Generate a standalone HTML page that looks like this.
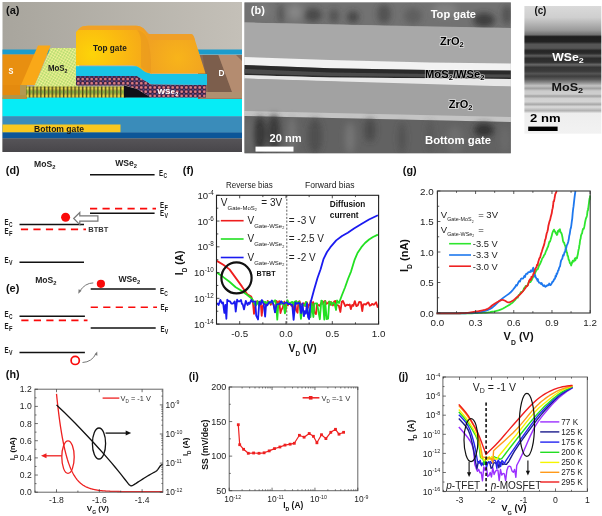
<!DOCTYPE html><html><head><meta charset="utf-8"><style>html,body{margin:0;padding:0;background:#fff;width:602px;height:516px;overflow:hidden;}svg{display:block;will-change:transform;}text{font-family:"Liberation Sans",sans-serif;}</style></head><body><svg width="602" height="516" viewBox="0 0 602 516"><defs><linearGradient id="abg" x1="0" y1="0" x2="1" y2="0"><stop offset="0" stop-color="#a8a59d"/><stop offset="1" stop-color="#c4c0b8"/></linearGradient><linearGradient id="agray" x1="0" y1="0" x2="0" y2="1"><stop offset="0" stop-color="#565458"/><stop offset="1" stop-color="#48464a"/></linearGradient><linearGradient id="tgtop" x1="0" y1="0" x2="0" y2="1"><stop offset="0" stop-color="#f0a030"/><stop offset="1" stop-color="#f5a020"/></linearGradient><linearGradient id="tgfront" x1="0" y1="0" x2="1" y2="0"><stop offset="0" stop-color="#fcc010"/><stop offset="0.5" stop-color="#f9b21a"/><stop offset="1" stop-color="#f5a81e"/></linearGradient><pattern id="mosTop" width="2.6" height="2.6" patternUnits="userSpaceOnUse" patternTransform="rotate(30)"><rect width="2.6" height="2.6" fill="#dfe886"/><circle cx="0.8" cy="0.8" r="0.55" fill="#6acc50"/><circle cx="2.1" cy="2.1" r="0.5" fill="#fafaa0"/></pattern><pattern id="mosSide" x="26" y="86.5" width="3.8" height="11" patternUnits="userSpaceOnUse"><rect width="3.8" height="11" fill="#4a4a1c"/><rect x="0.5" y="0" width="2.2" height="11" fill="#b8b840"/><circle cx="1.6" cy="2" r="1.1" fill="#f2e050"/><circle cx="1.6" cy="5.5" r="1.0" fill="#70b040"/><circle cx="1.6" cy="9.5" r="1.2" fill="#f2d840"/></pattern><pattern id="wseP" x="76" y="77" width="4.5" height="4.2" patternUnits="userSpaceOnUse"><rect width="4.5" height="4.2" fill="#3a2040"/><circle cx="2.25" cy="2.0" r="1.35" fill="#e47f86"/><circle cx="0" cy="0" r="0.8" fill="#6a5aa8"/><circle cx="4.5" cy="0" r="0.8" fill="#6a5aa8"/><circle cx="0" cy="4.2" r="0.8" fill="#6a5aa8"/><circle cx="4.5" cy="4.2" r="0.8" fill="#6a5aa8"/></pattern></defs>
<rect x="2.50" y="2.00" width="239.50" height="150.00" fill="url(#abg)" />
<rect x="2.50" y="49.50" width="239.50" height="5.00" fill="#1c9ccc" />
<rect x="2.50" y="97.30" width="239.50" height="19.20" fill="#06ecf6" />
<rect x="2.50" y="116.30" width="239.50" height="16.50" fill="#3a8cba" />
<rect x="2.50" y="124.50" width="118.00" height="8.00" fill="#f8c820" />
<rect x="2.50" y="132.50" width="239.50" height="6.00" fill="#0c5698" />
<rect x="2.50" y="138.50" width="239.50" height="13.50" fill="url(#agray)" />
<polygon points="2.50,54.50 37.00,54.50 22.00,85.00 2.50,85.00" fill="#e88f10" />
<polygon points="2.50,85.00 20.00,85.00 20.00,95.00 2.50,95.00" fill="#e48a0e" />
<polygon points="38.00,45.50 50.50,45.50 35.00,85.00 21.00,85.00" fill="#f9a818" />
<polygon points="20.00,85.00 27.00,85.00 27.00,97.00 20.00,97.00" fill="#b49850" />
<polygon points="2.50,95.00 27.00,95.00 27.00,99.00 2.50,99.00" fill="#b09448" />
<polygon points="50.50,48.00 80.00,48.00 78.00,87.00 34.00,87.00" fill="url(#mosTop)" />
<rect x="26.00" y="86.50" width="100.00" height="11.00" fill="url(#mosSide)" />
<polygon points="198.00,55.00 242.00,55.00 242.00,99.00 198.00,99.00" fill="#8a6a56" />
<polygon points="202.60,55.00 218.40,55.00 232.00,92.00 208.00,92.00" fill="#7c5e4c" />
<polygon points="218.40,55.00 236.00,55.00 242.00,61.00 242.00,92.00 232.00,92.00" fill="#b48c70" />
<polygon points="200.00,92.00 242.00,92.00 242.00,98.60 200.00,98.60" fill="#b09070" />
<polygon points="124.00,85.50 137.00,89.00 151.00,97.60 124.00,97.60" fill="#101018" />
<polygon points="76.00,76.00 137.00,76.00 151.00,84.20 206.00,85.00 206.00,97.50 151.00,97.50 137.00,89.00 126.00,85.50 76.00,85.50" fill="url(#wseP)" />
<polygon points="76.00,66.30 137.00,66.30 151.00,74.00 207.00,74.00 207.00,85.00 151.00,84.20 137.00,76.00 76.00,76.00" fill="#18c4e6" />
<defs><radialGradient id="tgL" cx="92" cy="54" r="62" gradientUnits="userSpaceOnUse"><stop offset="0" stop-color="#fdd408"/><stop offset="0.45" stop-color="#fbbc10"/><stop offset="1" stop-color="#f4a21c"/></radialGradient><radialGradient id="tgR" cx="178" cy="58" r="36" gradientUnits="userSpaceOnUse"><stop offset="0" stop-color="#f8b41a"/><stop offset="1" stop-color="#f0a022"/></radialGradient></defs>
<path d="M80,28 Q82,25.8 88,25.8 L136,25.8 Q142,26 145,30 L149,36 Q151,40 152,52 L152,73.5 L151,73.5 Q145,73 140,68 Q137,65.3 132,65.3 L76,65.3 L76,32 Z" fill="url(#tgL)"/>
<path d="M146,34 L191,34 Q193,34 194,37 L205.5,73.5 L151,73.5 L150,60 Q148,40 146,34 Z" fill="url(#tgR)"/>
<path d="M80,28 Q82,25.8 88,25.8 L136,25.8 Q142,26 145,30 L149,34 L191,34 Q193,34 194,37 L195,40 L152,40 Q149,38 147,35 L143,31 Q140,30 136,30 L78,30 Z" fill="#ef9e2a" opacity="0.85"/>
<path d="M137,30 Q143,31 146,36 Q150,45 151,60 L151,73 Q146,72 141,67 L141,40 Q140,33 137,30 Z" fill="#e89820" opacity="0.6"/>
<text x="6.00" y="14.30" font-size="11" font-weight="bold" fill="#111">(a)</text>
<text x="8.40" y="74.30" font-size="9.6" font-weight="bold" fill="#fff" textLength="4.90" lengthAdjust="spacingAndGlyphs">S</text>
<text x="218.40" y="76.20" font-size="9.6" font-weight="bold" fill="#fff" textLength="6.00" lengthAdjust="spacingAndGlyphs">D</text>
<text x="93.10" y="50.90" font-size="8.8" font-weight="bold" fill="#1a1a1a" textLength="33.60" lengthAdjust="spacingAndGlyphs">Top gate</text>
<text x="48" y="71.4" font-size="8.3" font-weight="bold" fill="#1a1a1a" textLength="19.5" lengthAdjust="spacingAndGlyphs">MoS<tspan font-size="5.5" dy="1.8">2</tspan></text>
<text x="157.3" y="94.3" font-size="7.8" font-weight="bold" fill="#fff" textLength="21" lengthAdjust="spacingAndGlyphs">WSe<tspan font-size="5.2" dy="1.8">2</tspan></text>
<text x="34.00" y="132.00" font-size="9" font-weight="bold" fill="#1a1a1a" textLength="50.00" lengthAdjust="spacingAndGlyphs">Bottom gate</text>
<defs><filter id="noise" x="0" y="0" width="100%" height="100%"><feTurbulence type="fractalNoise" baseFrequency="0.9" numOctaves="2" seed="3"/><feColorMatrix type="matrix" values="0 0 0 0 0.5  0 0 0 0 0.5  0 0 0 0 0.5  0 0 0 1.2 -0.35"/></filter><filter id="soft"><feGaussianBlur stdDeviation="0.7"/></filter><filter id="bl3" x="-20%" y="-20%" width="140%" height="140%"><feGaussianBlur stdDeviation="3"/></filter><filter id="blob" x="0" y="0" width="100%" height="100%"><feTurbulence type="fractalNoise" baseFrequency="0.06 0.03" numOctaves="2" seed="7"/><feColorMatrix type="matrix" values="0 0 0 0 0  0 0 0 0 0  0 0 0 0 0  0 0 0 -2.2 1.2"/></filter></defs>
<rect x="244.50" y="2.40" width="266.30" height="150.80" fill="#a6a6a6" />
<polygon points="244.50,2.40 510.80,2.40 510.80,28.00 244.50,22.50" fill="#727272" />
<clipPath id="bclip"><rect x="244.5" y="2.4" width="266.3" height="150.8"/></clipPath>
<g clip-path="url(#bclip)" filter="url(#bl3)">
<ellipse cx="281" cy="14" rx="2" ry="10" fill="#303030" opacity="0.7"/>
<ellipse cx="313" cy="15" rx="9" ry="7" fill="#383838" opacity="0.7"/>
<ellipse cx="334" cy="16" rx="5" ry="7" fill="#3a3a3a" opacity="0.6"/>
<ellipse cx="353" cy="17" rx="6" ry="6" fill="#333" opacity="0.7"/>
<ellipse cx="384" cy="14" rx="7" ry="10" fill="#3a3a3a" opacity="0.6"/>
<ellipse cx="413" cy="16" rx="9" ry="8" fill="#4a4a4a" opacity="0.5"/>
<ellipse cx="484" cy="20" rx="11" ry="7" fill="#2e2e2e" opacity="0.8"/>
<ellipse cx="507" cy="15" rx="5" ry="10" fill="#3a3a3a" opacity="0.6"/>
<ellipse cx="295" cy="12" rx="7" ry="8" fill="#9a9a9a" opacity="0.5"/>
<ellipse cx="445" cy="10" rx="12" ry="7" fill="#999" opacity="0.4"/>
<ellipse cx="262" cy="10" rx="8" ry="7" fill="#8a8a8a" opacity="0.4"/>
</g>
<g filter="url(#soft)">
<polygon points="244.50,22.50 330.00,24.50 430.00,27.00 510.80,28.00 510.80,63.50 430.00,62.50 330.00,60.00 244.50,57.00" fill="#a8a8a8" />
<polygon points="244.50,57.00 330.00,60.00 430.00,62.50 510.80,63.50 510.80,70.50 430.00,70.00 330.00,68.30 244.50,65.00" fill="#f2f2f2" />
<polygon points="244.50,65.00 330.00,68.30 430.00,70.00 510.80,70.50 510.80,79.00 430.00,78.30 330.00,77.50 244.50,75.00" fill="#2a2a2a" />
<polygon points="244.50,69.00 330.00,72.50 430.00,74.00 510.80,74.50 510.80,77.50 430.00,77.00 330.00,76.00 244.50,73.50" fill="#5a5a5a" opacity="0.7"/>
<polygon points="244.50,75.00 330.00,77.50 430.00,78.30 510.80,79.00 510.80,86.50 430.00,85.80 330.00,81.60 244.50,78.50" fill="#e8e8e8" />
<polygon points="244.50,78.50 510.80,86.50 510.80,117.00 244.50,111.00" fill="#a2a2a2" />
</g>
<polygon points="244.50,111.00 510.80,117.00 510.80,122.00 244.50,116.00" fill="#c4c4c4" />
<polygon points="244.50,116.00 510.80,122.00 510.80,153.20 244.50,153.20" fill="#626262" />
<g clip-path="url(#bclip)" filter="url(#bl3)">
<ellipse cx="260" cy="134" rx="6" ry="18" fill="#2c2c2c" opacity="0.8"/>
<ellipse cx="274" cy="132" rx="6" ry="18" fill="#303030" opacity="0.8"/>
<ellipse cx="315" cy="136" rx="7" ry="18" fill="#404040" opacity="0.6"/>
<ellipse cx="370" cy="130" rx="6" ry="12" fill="#3c3c3c" opacity="0.6"/>
<ellipse cx="402" cy="138" rx="4" ry="16" fill="#444" opacity="0.5"/>
<ellipse cx="484" cy="130" rx="10" ry="7" fill="#2a2a2a" opacity="0.85"/>
<ellipse cx="292" cy="134" rx="4" ry="18" fill="#888" opacity="0.5"/>
<ellipse cx="350" cy="138" rx="5" ry="16" fill="#8a8a8a" opacity="0.5"/>
<ellipse cx="455" cy="140" rx="8" ry="14" fill="#7c7c7c" opacity="0.4"/>
<ellipse cx="505" cy="140" rx="4" ry="14" fill="#7a7a7a" opacity="0.4"/>
<ellipse cx="248" cy="135" rx="3" ry="16" fill="#7a7a7a" opacity="0.5"/>
<ellipse cx="430" cy="136" rx="4" ry="16" fill="#4a4a4a" opacity="0.4"/>
</g>
<rect x="255.50" y="146.60" width="38.00" height="5.00" fill="#fff" />
<text x="269.50" y="142.00" font-size="10" font-weight="bold" fill="#fff" textLength="32.00" lengthAdjust="spacingAndGlyphs">20 nm</text>
<text x="250.80" y="14.30" font-size="11" font-weight="bold" fill="#fff">(b)</text>
<text x="430.70" y="18.00" font-size="10" font-weight="bold" fill="#fff" textLength="45.30" lengthAdjust="spacingAndGlyphs">Top gate</text>
<text x="440" y="45.3" font-size="11" font-weight="bold" stroke="#fff" stroke-width="1.6" stroke-opacity="0.6" paint-order="stroke">ZrO<tspan font-size="7.5" dy="2">2</tspan></text>
<text x="425" y="78.3" font-size="11" font-weight="bold" stroke="#fff" stroke-width="1.6" stroke-opacity="0.6" paint-order="stroke" textLength="59.6" lengthAdjust="spacingAndGlyphs">MoS<tspan font-size="7.5" dy="2">2</tspan><tspan dy="-2">/WSe</tspan><tspan font-size="7.5" dy="2">2</tspan></text>
<text x="448.7" y="108.1" font-size="11" font-weight="bold" stroke="#fff" stroke-width="1.6" stroke-opacity="0.6" paint-order="stroke">ZrO<tspan font-size="7.5" dy="2">2</tspan></text>
<text x="425.00" y="144.00" font-size="10" font-weight="bold" fill="#fff" textLength="66.00" lengthAdjust="spacingAndGlyphs">Bottom gate</text>
<defs><linearGradient id="cgr" x1="0" y1="0" x2="0" y2="1"><stop offset="0" stop-color="#dadada"/><stop offset="0.09" stop-color="#cfcfcf"/><stop offset="0.19" stop-color="#9a9a9a"/><stop offset="0.225" stop-color="#707070"/><stop offset="0.24" stop-color="#1e1e1e"/><stop offset="0.28" stop-color="#222"/><stop offset="0.30" stop-color="#555"/><stop offset="0.33" stop-color="#555"/><stop offset="0.35" stop-color="#252525"/><stop offset="0.37" stop-color="#2a2a2a"/><stop offset="0.39" stop-color="#5c5c5c"/><stop offset="0.41" stop-color="#2c2c2c"/><stop offset="0.44" stop-color="#303030"/><stop offset="0.46" stop-color="#686868"/><stop offset="0.48" stop-color="#363636"/><stop offset="0.51" stop-color="#3a3a3a"/><stop offset="0.53" stop-color="#555"/><stop offset="0.55" stop-color="#3e3e3e"/><stop offset="0.575" stop-color="#5a5a5a"/><stop offset="0.60" stop-color="#8c8c8c"/><stop offset="0.625" stop-color="#c4c4c4"/><stop offset="0.645" stop-color="#a0a0a0"/><stop offset="0.665" stop-color="#cbcbcb"/><stop offset="0.69" stop-color="#cfcfcf"/><stop offset="0.705" stop-color="#a2a2a2"/><stop offset="0.725" stop-color="#d2d2d2"/><stop offset="0.75" stop-color="#d4d4d4"/><stop offset="0.77" stop-color="#a8a8a8"/><stop offset="0.79" stop-color="#dcdcdc"/><stop offset="0.82" stop-color="#b0b0b0"/><stop offset="0.84" stop-color="#eeeeee"/><stop offset="1" stop-color="#f2f2f2"/></linearGradient></defs>
<rect x="524.40" y="6.00" width="76.90" height="127.70" fill="url(#cgr)" />
<text x="534.40" y="14.40" font-size="11" font-weight="bold" fill="#111" textLength="12.00" lengthAdjust="spacingAndGlyphs">(c)</text>
<text x="552.3" y="60.6" font-size="11" font-weight="bold" fill="#fff" textLength="31.5" lengthAdjust="spacingAndGlyphs">WSe<tspan font-size="8" dy="2">2</tspan></text>
<text x="551.5" y="90.9" font-size="11" font-weight="bold" fill="#111" textLength="31.6" lengthAdjust="spacingAndGlyphs">MoS<tspan font-size="8" dy="2">2</tspan></text>
<text x="530.10" y="121.60" font-size="11" font-weight="bold" textLength="30.50" lengthAdjust="spacingAndGlyphs">2 nm</text>
<rect x="528.20" y="126.60" width="29.40" height="4.40" fill="#000" />
<text x="5.80" y="173.80" font-size="10.8" font-weight="bold" fill="#111">(d)</text>
<text x="34" y="167.4" font-size="8.6" font-weight="bold" fill="#222">MoS<tspan font-size="5.8" dy="2">2</tspan></text>
<text x="115.2" y="166" font-size="8.6" font-weight="bold" fill="#222">WSe<tspan font-size="5.8" dy="2">2</tspan></text>
<line x1="19.50" y1="224.40" x2="84.00" y2="224.40" stroke="#111" stroke-width="1.5" />
<line x1="20.90" y1="229.40" x2="86.00" y2="229.40" stroke="#fa0a0a" stroke-width="1.6" stroke-dasharray="7.2 5.3"/>
<line x1="19.50" y1="262.20" x2="84.00" y2="262.20" stroke="#111" stroke-width="1.5" />
<text x="4.6" y="224.6" font-size="9.2" font-weight="bold" fill="#1a1a1a"><tspan textLength="4.1" lengthAdjust="spacingAndGlyphs">E</tspan><tspan x="8.90" font-size="6.4" dy="2.0" textLength="3.5" lengthAdjust="spacingAndGlyphs">C</tspan></text>
<text x="4.6" y="234.4" font-size="9.2" font-weight="bold" fill="#1a1a1a"><tspan textLength="4.1" lengthAdjust="spacingAndGlyphs">E</tspan><tspan x="8.90" font-size="6.4" dy="2.0" textLength="3.5" lengthAdjust="spacingAndGlyphs">F</tspan></text>
<text x="4.6" y="263.40000000000003" font-size="9.2" font-weight="bold" fill="#1a1a1a"><tspan textLength="4.1" lengthAdjust="spacingAndGlyphs">E</tspan><tspan x="8.90" font-size="6.4" dy="2.0" textLength="3.5" lengthAdjust="spacingAndGlyphs">V</tspan></text>
<line x1="90.00" y1="174.80" x2="154.60" y2="174.80" stroke="#111" stroke-width="1.5" />
<line x1="90.00" y1="208.60" x2="156.00" y2="208.60" stroke="#fa0a0a" stroke-width="1.6" stroke-dasharray="7.2 5.3"/>
<line x1="90.00" y1="213.20" x2="154.60" y2="213.20" stroke="#111" stroke-width="1.5" />
<text x="159.1" y="176.29999999999998" font-size="9.2" font-weight="bold" fill="#1a1a1a"><tspan textLength="4.1" lengthAdjust="spacingAndGlyphs">E</tspan><tspan x="163.40" font-size="6.4" dy="2.0" textLength="3.5" lengthAdjust="spacingAndGlyphs">C</tspan></text>
<text x="160.1" y="207.7" font-size="9.2" font-weight="bold" fill="#1a1a1a"><tspan textLength="4.1" lengthAdjust="spacingAndGlyphs">E</tspan><tspan x="164.40" font-size="6.4" dy="2.0" textLength="3.5" lengthAdjust="spacingAndGlyphs">F</tspan></text>
<text x="160.1" y="216.2" font-size="9.2" font-weight="bold" fill="#1a1a1a"><tspan textLength="4.1" lengthAdjust="spacingAndGlyphs">E</tspan><tspan x="164.40" font-size="6.4" dy="2.0" textLength="3.5" lengthAdjust="spacingAndGlyphs">V</tspan></text>
<circle cx="65.6" cy="217.2" r="4.5" fill="#fa0a0a"/>
<polygon points="73.70,218.50 79.80,212.50 79.80,215.80 97.90,215.80 97.90,221.20 79.80,221.20 79.80,224.60" fill="#fff" stroke="#777" stroke-width="1.2" stroke-linejoin="miter"/>
<text x="88.30" y="232.00" font-size="7.8" font-weight="bold" fill="#333" textLength="20.00" lengthAdjust="spacingAndGlyphs">BTBT</text>
<text x="5.90" y="292.20" font-size="11" font-weight="bold" fill="#111">(e)</text>
<text x="35.2" y="283" font-size="8.6" font-weight="bold" fill="#222">MoS<tspan font-size="5.8" dy="2">2</tspan></text>
<text x="118.4" y="282" font-size="8.6" font-weight="bold" fill="#222">WSe<tspan font-size="5.8" dy="2">2</tspan></text>
<line x1="19.50" y1="316.20" x2="84.90" y2="316.20" stroke="#111" stroke-width="1.5" />
<line x1="21.30" y1="320.40" x2="87.50" y2="320.40" stroke="#fa0a0a" stroke-width="1.6" stroke-dasharray="7.2 5.3"/>
<line x1="19.50" y1="352.40" x2="84.90" y2="352.40" stroke="#111" stroke-width="1.5" />
<text x="4.6" y="316.90000000000003" font-size="9.2" font-weight="bold" fill="#1a1a1a"><tspan textLength="4.1" lengthAdjust="spacingAndGlyphs">E</tspan><tspan x="8.90" font-size="6.4" dy="2.0" textLength="3.5" lengthAdjust="spacingAndGlyphs">C</tspan></text>
<text x="4.6" y="329.40000000000003" font-size="9.2" font-weight="bold" fill="#1a1a1a"><tspan textLength="4.1" lengthAdjust="spacingAndGlyphs">E</tspan><tspan x="8.90" font-size="6.4" dy="2.0" textLength="3.5" lengthAdjust="spacingAndGlyphs">F</tspan></text>
<text x="4.6" y="353.40000000000003" font-size="9.2" font-weight="bold" fill="#1a1a1a"><tspan textLength="4.1" lengthAdjust="spacingAndGlyphs">E</tspan><tspan x="8.90" font-size="6.4" dy="2.0" textLength="3.5" lengthAdjust="spacingAndGlyphs">V</tspan></text>
<line x1="90.70" y1="288.90" x2="155.70" y2="288.90" stroke="#111" stroke-width="1.5" />
<line x1="90.70" y1="307.20" x2="157.00" y2="307.20" stroke="#fa0a0a" stroke-width="1.6" stroke-dasharray="7.2 5.3"/>
<line x1="90.70" y1="328.10" x2="155.70" y2="328.10" stroke="#111" stroke-width="1.5" />
<text x="160" y="293.8" font-size="9.2" font-weight="bold" fill="#1a1a1a"><tspan textLength="4.1" lengthAdjust="spacingAndGlyphs">E</tspan><tspan x="164.30" font-size="6.4" dy="2.0" textLength="3.5" lengthAdjust="spacingAndGlyphs">C</tspan></text>
<text x="160.5" y="309.8" font-size="9.2" font-weight="bold" fill="#1a1a1a"><tspan textLength="4.1" lengthAdjust="spacingAndGlyphs">E</tspan><tspan x="164.80" font-size="6.4" dy="2.0" textLength="3.5" lengthAdjust="spacingAndGlyphs">F</tspan></text>
<text x="160.5" y="331.70000000000005" font-size="9.2" font-weight="bold" fill="#1a1a1a"><tspan textLength="4.1" lengthAdjust="spacingAndGlyphs">E</tspan><tspan x="164.80" font-size="6.4" dy="2.0" textLength="3.5" lengthAdjust="spacingAndGlyphs">V</tspan></text>
<circle cx="100.9" cy="283.8" r="4.1" fill="#fa0a0a"/>
<circle cx="75.2" cy="360.4" r="4.1" fill="none" stroke="#fa0a0a" stroke-width="1.7"/>
<path d="M93.3,282.9 Q85,283 79.5,291.5" fill="none" stroke="#777" stroke-width="1.0"/>
<polygon points="78.30,293.80 78.60,289.30 81.60,290.70" fill="#777" />
<path d="M82.5,362.5 Q92,362 96,353.5" fill="none" stroke="#777" stroke-width="1.0"/>
<polygon points="97.20,351.50 97.40,355.80 94.60,354.60" fill="#777" />
<text x="182.80" y="173.80" font-size="10.8" font-weight="bold" fill="#111">(f)</text>
<text x="226.00" y="188.00" font-size="9" fill="#1a1a1a" textLength="46.80" lengthAdjust="spacingAndGlyphs">Reverse bias</text>
<text x="305.00" y="188.00" font-size="9" fill="#1a1a1a" textLength="49.60" lengthAdjust="spacingAndGlyphs">Forward bias</text>
<text x="329.80" y="206.80" font-size="9" font-weight="bold" fill="#111" textLength="35.60" lengthAdjust="spacingAndGlyphs">Diffusion</text>
<text x="329.80" y="218.00" font-size="9" font-weight="bold" fill="#111" textLength="28.80" lengthAdjust="spacingAndGlyphs">current</text>
<line x1="286.80" y1="195.30" x2="286.80" y2="324.10" stroke="#333" stroke-width="0.8" stroke-dasharray="2 1.6"/>
<polyline points="216.80,260.90 223.30,264.70 229.50,269.40 235.70,277.90 241.90,286.40 247.30,294.20 251.20,296.50 252.80,301.00 254.00,313.83 255.71,304.17 256.97,301.26 257.91,302.80 259.61,301.55 260.68,301.60 261.70,315.81 262.87,305.95 264.35,303.34 265.25,304.44 266.73,304.78 267.72,300.84 268.58,302.95 269.74,302.45 270.82,304.80 271.77,302.05 273.52,304.32 275.32,312.01 276.52,300.95 278.33,303.61 279.21,301.10 280.50,313.04 281.33,310.12 282.54,307.91 284.33,301.70 285.53,311.32 286.42,303.73 287.82,305.50 288.62,303.72 289.99,302.81 291.53,305.81 292.78,305.33 293.68,313.67 295.31,302.45 296.17,310.61 297.55,312.74 298.38,301.82 299.55,301.25 300.66,304.91 302.37,304.36 303.75,303.18 305.21,306.05 306.72,302.20 307.90,307.95 308.95,304.49 309.80,304.98 310.61,300.98 311.76,305.51 313.17,301.99 314.33,312.31 315.97,314.11 316.93,304.67 318.68,305.15 319.79,305.82 321.03,303.17 322.78,303.68 324.18,301.28 325.40,300.99 326.21,303.93 327.91,302.90 328.97,301.83 330.13,304.91 331.27,302.09 332.93,305.46 334.12,301.50 335.41,300.91 336.29,304.72 337.28,305.16 338.77,305.53 340.38,312.00 341.77,301.73 342.88,300.85 344.06,303.37 345.26,306.20 347.00,304.58 348.34,305.17 349.73,304.50 350.81,309.11 352.19,304.95 353.29,305.90 354.82,301.10 356.29,306.06 357.79,305.39 359.20,301.87 360.92,302.04 362.26,311.15 363.23,304.36 364.95,304.14 365.85,304.56 367.37,302.79 368.37,302.41 369.80,305.72 371.24,304.99 372.08,303.87 373.78,304.78 375.00,303.66 376.09,302.27 377.88,307.85" fill="none" stroke="#ee1d1d" stroke-width="1.8" stroke-linejoin="round" />
<polyline points="216.80,272.50 223.30,277.10 229.50,281.80 235.70,287.20 241.90,291.00 247.30,295.00 252.00,298.80 253.00,300.40 253.88,303.25 255.26,305.57 256.48,304.75 257.64,301.00 259.01,305.56 260.42,302.17 261.20,300.80 262.62,300.99 264.33,302.30 265.35,301.83 266.52,305.58 267.92,301.66 269.22,302.53 271.02,302.95 272.30,300.88 273.54,301.84 275.18,300.27 276.24,305.44 277.28,319.58 278.36,303.61 279.81,303.58 280.72,304.46 282.05,302.08 283.38,302.80 284.94,313.43 286.19,305.33 287.54,300.28 288.76,303.42 290.20,302.90 291.38,302.39 292.37,301.86 293.21,304.88 294.44,301.80 296.17,301.00 297.52,302.99 298.46,303.48 299.31,301.49 300.92,318.92 302.71,305.79 303.54,304.92 305.00,305.53 305.92,301.84 306.85,303.62 307.80,312.05 308.97,314.02 310.53,316.98 311.63,303.56 313.39,317.03 314.33,303.74 316.05,303.31 317.11,303.29 318.67,312.83 319.83,319.23 321.30,300.68 322.17,300.90 323.20,305.11 324.31,319.69 325.15,301.04 326.64,319.15 328.11,318.74 329.26,301.52 330.68,302.15 331.60,304.85 333.22,302.63 334.53,303.52 336.08,309.97 337.07,300.42 339.00,303.00 342.00,295.00 345.00,287.50 348.00,279.00 351.10,271.30 354.60,259.80 357.50,253.00 361.40,247.20 365.00,243.00 369.10,239.50 373.00,237.00 377.90,234.60" fill="none" stroke="#22e022" stroke-width="1.8" stroke-linejoin="round" />
<polyline points="217.00,303.19 218.61,304.98 220.35,299.86 222.11,303.33 223.01,302.33 224.35,312.98 225.42,304.83 226.37,318.80 227.28,299.71 228.28,300.91 229.96,301.32 231.30,303.50 233.06,303.57 234.77,301.37 235.73,311.55 237.13,299.72 238.26,301.44 239.54,301.47 241.06,300.02 241.86,303.90 242.66,304.11 244.04,309.41 245.81,300.80 247.56,304.98 248.71,302.64 249.60,303.89 251.28,299.91 252.15,301.61 253.89,301.60 255.23,301.45 256.20,315.59 258.01,319.45 259.35,301.97 260.75,304.33 261.97,300.01 262.78,302.46 263.70,303.80 265.13,316.67 266.07,304.43 267.32,305.30 269.11,302.24 270.65,302.38 271.85,300.52 273.66,305.07 274.96,312.30 276.55,304.56 278.15,304.04 279.62,303.95 281.13,301.27 282.71,303.57 284.48,303.34 285.27,302.76 286.75,302.29 288.20,304.17 289.65,303.83 290.79,304.42 292.29,305.17 293.61,319.80 295.36,302.37 296.89,303.79 298.48,302.95 299.70,303.19 301.14,313.16 302.38,303.34 303.88,316.21 304.89,311.22 305.86,313.69 307.04,303.13 308.06,316.98 309.13,319.07 310.50,303.00 314.00,290.00 317.50,278.00 320.60,269.20 323.60,258.80 327.00,252.00 330.40,247.20 336.20,240.40 342.00,236.00 347.80,232.70 354.00,228.50 361.40,224.00 369.00,219.50 377.90,215.20" fill="none" stroke="#1a1af0" stroke-width="1.8" stroke-linejoin="round" />
<rect x="216.5" y="195.3" width="162.10000000000002" height="128.8" fill="none" stroke="#222" stroke-width="1.1"/>
<line x1="216.50" y1="195.30" x2="219.50" y2="195.30" stroke="#222" stroke-width="0.8" />
<text x="213.80" y="198.90" font-size="9.6" text-anchor="end" fill="#222">10<tspan font-size="6.3" dy="-4.0">-4</tspan></text>
<line x1="216.50" y1="208.18" x2="218.30" y2="208.18" stroke="#222" stroke-width="0.8" />
<line x1="216.50" y1="221.06" x2="219.50" y2="221.06" stroke="#222" stroke-width="0.8" />
<text x="213.80" y="224.66" font-size="9.6" text-anchor="end" fill="#222">10<tspan font-size="6.3" dy="-4.0">-6</tspan></text>
<line x1="216.50" y1="233.94" x2="218.30" y2="233.94" stroke="#222" stroke-width="0.8" />
<line x1="216.50" y1="246.82" x2="219.50" y2="246.82" stroke="#222" stroke-width="0.8" />
<text x="213.80" y="250.42" font-size="9.6" text-anchor="end" fill="#222">10<tspan font-size="6.3" dy="-4.0">-8</tspan></text>
<line x1="216.50" y1="259.70" x2="218.30" y2="259.70" stroke="#222" stroke-width="0.8" />
<line x1="216.50" y1="272.58" x2="219.50" y2="272.58" stroke="#222" stroke-width="0.8" />
<text x="213.80" y="276.18" font-size="9.6" text-anchor="end" fill="#222">10<tspan font-size="6.3" dy="-4.0">-10</tspan></text>
<line x1="216.50" y1="285.46" x2="218.30" y2="285.46" stroke="#222" stroke-width="0.8" />
<line x1="216.50" y1="298.34" x2="219.50" y2="298.34" stroke="#222" stroke-width="0.8" />
<text x="213.80" y="301.94" font-size="9.6" text-anchor="end" fill="#222">10<tspan font-size="6.3" dy="-4.0">-12</tspan></text>
<line x1="216.50" y1="311.22" x2="218.30" y2="311.22" stroke="#222" stroke-width="0.8" />
<line x1="216.50" y1="324.10" x2="219.50" y2="324.10" stroke="#222" stroke-width="0.8" />
<text x="213.80" y="327.70" font-size="9.6" text-anchor="end" fill="#222">10<tspan font-size="6.3" dy="-4.0">-14</tspan></text>
<line x1="239.70" y1="324.10" x2="239.70" y2="321.10" stroke="#222" stroke-width="0.8" />
<line x1="239.70" y1="195.30" x2="239.70" y2="198.30" stroke="#222" stroke-width="0.8" />
<text x="239.70" y="336.50" font-size="9.8" text-anchor="middle" fill="#222">-0.5</text>
<line x1="286.00" y1="324.10" x2="286.00" y2="321.10" stroke="#222" stroke-width="0.8" />
<line x1="286.00" y1="195.30" x2="286.00" y2="198.30" stroke="#222" stroke-width="0.8" />
<text x="286.00" y="336.50" font-size="9.8" text-anchor="middle" fill="#222">0.0</text>
<line x1="332.30" y1="324.10" x2="332.30" y2="321.10" stroke="#222" stroke-width="0.8" />
<line x1="332.30" y1="195.30" x2="332.30" y2="198.30" stroke="#222" stroke-width="0.8" />
<text x="332.30" y="336.50" font-size="9.8" text-anchor="middle" fill="#222">0.5</text>
<line x1="378.60" y1="324.10" x2="378.60" y2="321.10" stroke="#222" stroke-width="0.8" />
<line x1="378.60" y1="195.30" x2="378.60" y2="198.30" stroke="#222" stroke-width="0.8" />
<text x="378.60" y="336.50" font-size="9.8" text-anchor="middle" fill="#222">1.0</text>
<line x1="262.85" y1="324.10" x2="262.85" y2="322.30" stroke="#222" stroke-width="0.8" />
<line x1="262.85" y1="195.30" x2="262.85" y2="197.10" stroke="#222" stroke-width="0.8" />
<line x1="309.15" y1="324.10" x2="309.15" y2="322.30" stroke="#222" stroke-width="0.8" />
<line x1="309.15" y1="195.30" x2="309.15" y2="197.10" stroke="#222" stroke-width="0.8" />
<line x1="355.45" y1="324.10" x2="355.45" y2="322.30" stroke="#222" stroke-width="0.8" />
<line x1="355.45" y1="195.30" x2="355.45" y2="197.10" stroke="#222" stroke-width="0.8" />
<text x="288.6" y="352" font-size="10.3" font-weight="bold" fill="#111">V<tspan font-size="6.4" dy="4.4">D</tspan><tspan dy="-4.4" font-size="10.3"> (V)</tspan></text>
<text transform="translate(182.7,275.2) rotate(-90)" font-size="10.3" font-weight="bold" fill="#111">I<tspan font-size="6.4" dy="4.4">D</tspan><tspan dy="-4.4" font-size="10.3"> (A)</tspan></text>
<text x="220.8" y="206" font-size="10" fill="#222">V<tspan font-size="6" dy="3.6">Gate-MoS</tspan><tspan font-size="3.8" dy="1.5">2</tspan></text>
<text x="261.30" y="206.00" font-size="10" fill="#222">= 3V</text>
<line x1="220.80" y1="220.70" x2="243.60" y2="220.70" stroke="#ee1d1d" stroke-width="1.6" />
<text x="247.5" y="224.0" font-size="10" fill="#222">V<tspan font-size="6" dy="3.8">Gate-WSe</tspan><tspan font-size="3.8" dy="1.5">2</tspan></text>
<text x="288.70" y="224.00" font-size="10" fill="#222">= -3 V</text>
<line x1="220.80" y1="239.00" x2="243.60" y2="239.00" stroke="#22e022" stroke-width="1.6" />
<text x="247.5" y="242.3" font-size="10" fill="#222">V<tspan font-size="6" dy="3.8">Gate-WSe</tspan><tspan font-size="3.8" dy="1.5">2</tspan></text>
<text x="288.70" y="242.30" font-size="10" fill="#222">= -2.5 V</text>
<line x1="220.80" y1="257.50" x2="243.60" y2="257.50" stroke="#1a1af0" stroke-width="1.6" />
<text x="247.5" y="260.8" font-size="10" fill="#222">V<tspan font-size="6" dy="3.8">Gate-WSe</tspan><tspan font-size="3.8" dy="1.5">2</tspan></text>
<text x="288.70" y="260.80" font-size="10" fill="#222">= -2 V</text>
<ellipse cx="236.5" cy="277.9" rx="15.1" ry="15.5" fill="none" stroke="#111" stroke-width="2.2"/>
<text x="256.60" y="276.40" font-size="7.5" font-weight="bold" fill="#111" textLength="19.00" lengthAdjust="spacingAndGlyphs">BTBT</text>
<text x="402.80" y="173.80" font-size="10.8" font-weight="bold" fill="#111">(g)</text>
<polyline points="436.50,313.30 441.20,313.31 448.05,313.32 455.75,313.33 463.00,313.32 468.52,313.30 471.95,313.26 474.14,313.20 475.65,313.13 477.01,313.04 478.77,312.93 480.97,312.82 483.25,312.70 485.54,312.56 487.82,312.36 490.05,312.08 492.21,311.74 494.33,311.36 496.43,310.91 498.50,310.34 500.55,309.63 502.65,308.70 504.81,307.56 506.90,306.34 508.81,305.16 510.41,304.13 511.63,303.30 512.53,302.59 513.25,301.93 513.91,301.24 514.64,300.46 515.43,299.55 516.21,298.44 516.97,297.69 517.72,297.63 518.48,295.48 519.24,294.71 520.00,294.10 520.75,292.24 521.53,292.24 522.33,291.62 523.14,291.07 523.95,288.26 524.79,287.75 525.69,286.03 526.68,286.59 527.80,284.80 529.01,281.48 530.29,282.18 531.57,280.31 532.83,277.62 534.08,275.58 535.34,272.36 536.59,269.90 537.82,269.09 538.98,265.68 540.09,263.74 541.16,261.48 542.19,258.52 543.17,257.30 544.10,255.05 544.99,254.11 545.82,251.41 546.61,249.95 547.36,247.83 548.08,246.46 548.75,244.04 549.38,241.64 549.98,241.61 550.57,239.79 551.15,237.75 551.73,235.84 552.29,233.28 552.84,231.68 553.40,230.79 553.97,229.63 554.57,231.57 555.19,231.37 555.80,233.53 556.39,233.18 556.91,235.00 557.36,234.32 557.76,231.26 558.12,230.78 558.47,231.69 558.84,230.06 559.21,231.27 559.56,229.83 559.92,229.29 560.32,231.34 560.76,232.69 561.27,232.86 561.84,234.36 562.44,237.20 563.03,241.03 563.58,242.43 564.08,242.40 564.57,244.27 565.03,245.33 565.47,246.60 565.88,249.86 566.24,249.51 566.54,251.63 566.83,252.46 567.15,253.00 567.55,255.81 568.05,256.07 568.63,259.59 569.25,260.40 569.84,263.03 570.36,263.63 570.80,264.04 571.17,265.46 571.51,264.26 571.88,262.10 572.29,262.93 572.76,260.70 573.26,260.71 573.79,261.43 574.33,260.39 574.85,258.45 575.37,260.31 575.90,257.92 576.43,257.58 576.94,258.23 577.41,255.99 577.84,254.29 578.24,251.69 578.61,249.48 578.97,248.45 579.33,245.37 579.66,244.18 579.96,241.43 580.26,239.50 580.59,238.76 581.00,235.60 581.48,234.17 582.02,233.50 582.60,230.32 583.21,228.69 583.81,228.75 584.45,226.14 585.13,221.94 585.81,218.90 586.45,217.48 587.02,215.38 587.49,211.03 587.91,210.65 588.28,208.24 588.62,205.43 588.94,203.03 589.26,200.38 589.56,198.48 589.83,199.33 590.06,196.15 590.22,196.42" fill="none" stroke="#2ee62e" stroke-width="1.8" stroke-linejoin="round" />
<polyline points="436.50,313.30 440.23,313.31 445.64,313.32 451.75,313.34 457.57,313.33 462.12,313.30 465.17,313.24 467.39,313.17 469.10,313.07 470.65,312.95 472.37,312.81 474.25,312.67 476.06,312.52 477.83,312.34 479.58,312.10 481.33,311.77 483.15,311.35 485.00,310.87 486.81,310.31 488.52,309.70 490.05,309.02 491.31,308.29 492.37,307.51 493.33,306.66 494.31,305.74 495.43,304.74 496.67,303.63 497.97,302.43 499.33,301.16 500.74,299.88 502.22,298.62 503.83,297.38 505.58,296.12 507.35,294.87 509.01,293.65 510.41,292.51 511.52,291.45 512.41,290.46 513.17,289.52 513.88,288.58 514.64,287.62 515.43,286.63 516.21,285.00 516.97,285.48 517.72,283.92 518.48,282.19 519.26,280.97 520.05,281.48 520.83,278.92 521.59,278.51 522.33,278.60 523.03,278.66 523.71,277.40 524.37,275.94 525.02,277.02 525.66,274.62 526.29,273.60 526.91,273.76 527.51,273.75 528.12,272.28 528.73,272.10 529.37,272.10 530.04,272.12 530.70,270.47 531.30,270.59 531.81,271.51 532.19,271.20 532.48,269.71 532.72,269.25 532.95,268.69 533.22,267.73 533.50,268.30 533.78,269.63 534.08,273.57 534.39,274.62 534.75,276.59 535.17,275.09 535.64,277.49 536.13,277.78 536.61,279.05 537.06,278.59 537.46,280.93 537.82,279.05 538.18,280.75 538.56,281.69 538.98,282.54 539.44,282.51 539.92,282.78 540.42,283.35 540.96,284.02 541.54,282.95 542.18,284.32 542.89,285.46 543.61,285.96 544.33,285.26 545.00,286.54 545.62,286.82 546.20,286.01 546.77,285.98 547.35,285.11 547.95,285.39 548.57,285.20 549.21,283.55 549.86,284.67 550.50,285.16 551.15,284.32 551.80,283.25 552.45,281.57 553.10,281.58 553.74,280.24 554.35,278.90 554.95,278.93 555.53,275.92 556.10,276.55 556.65,273.53 557.17,273.82 557.66,272.27 558.10,270.34 558.54,270.22 558.99,268.30 559.48,267.12 560.02,266.29 560.59,262.78 561.18,260.33 561.76,259.33 562.29,258.73 562.78,256.13 563.24,254.84 563.68,255.62 564.13,253.83 564.60,252.00 565.10,251.84 565.61,249.03 566.12,248.50 566.65,245.75 567.16,244.63 567.69,243.62 568.23,241.69 568.76,239.28 569.27,235.69 569.72,234.02 570.11,231.42 570.43,229.24 570.73,228.44 571.04,227.34 571.39,224.93 571.80,221.51 572.24,218.61 572.69,213.09 573.14,209.02 573.57,206.16 574.00,202.06 574.45,198.06 574.87,194.91 575.23,192.33 575.49,191.00" fill="none" stroke="#1e78ee" stroke-width="1.8" stroke-linejoin="round" />
<polyline points="436.50,313.30 439.28,313.30 443.29,313.31 447.84,313.32 452.22,313.32 455.71,313.30 458.18,313.28 460.10,313.25 461.68,313.21 463.13,313.15 464.68,313.06 466.30,312.93 467.85,312.78 469.36,312.61 470.85,312.41 472.37,312.20 473.91,311.97 475.44,311.73 476.98,311.47 478.52,311.18 480.05,310.85 481.61,310.52 483.20,310.17 484.77,309.78 486.29,309.31 487.74,308.71 489.07,307.94 490.31,307.03 491.51,306.04 492.73,305.04 494.02,304.13 495.46,303.22 497.01,302.29 498.56,301.41 500.00,300.66 501.19,300.15 502.07,299.92 502.73,299.89 503.26,300.02 503.78,300.23 504.39,300.46 505.12,300.78 505.88,301.23 506.67,301.71 507.46,302.10 508.24,302.29 508.98,302.29 509.70,302.17 510.43,301.93 511.21,301.56 512.08,301.07 513.06,300.42 514.14,299.61 515.27,298.69 516.39,297.73 517.46,296.79 518.49,295.84 519.52,294.85 520.52,293.84 521.46,292.85 522.33,291.90 523.09,291.03 523.75,290.23 524.37,289.43 524.99,288.58 525.66,287.62 526.38,286.03 527.13,286.18 527.89,285.29 528.64,282.63 529.37,280.40 530.08,279.09 530.77,280.11 531.45,276.77 532.14,277.27 532.83,275.57 533.55,273.42 534.29,273.10 535.02,269.46 535.74,268.11 536.42,267.32 537.03,264.70 537.59,265.38 538.14,262.38 538.72,260.50 539.36,258.31 540.11,257.42 540.93,254.16 541.78,251.71 542.60,248.94 543.34,246.83 543.97,245.18 544.55,242.71 545.08,239.81 545.61,238.80 546.15,236.03 546.72,233.24 547.28,231.86 547.84,229.80 548.41,225.74 548.97,223.43 549.55,221.23 550.13,219.83 550.71,217.09 551.27,215.04 551.79,213.07 552.25,209.69 552.67,208.23 553.07,206.02 553.49,201.44 553.97,201.30 554.55,198.39 555.23,194.42 555.91,192.98 556.50,191.49 556.91,191.00" fill="none" stroke="#ee2222" stroke-width="1.8" stroke-linejoin="round" />
<rect x="437.4" y="191.0" width="152.80000000000007" height="122.0" fill="none" stroke="#333" stroke-width="1.1"/>
<line x1="437.40" y1="313.00" x2="440.40" y2="313.00" stroke="#333" stroke-width="0.8" />
<text x="433.60" y="316.50" font-size="9.8" text-anchor="end" fill="#222">0.0</text>
<line x1="437.40" y1="297.75" x2="439.20" y2="297.75" stroke="#333" stroke-width="0.8" />
<line x1="437.40" y1="282.50" x2="440.40" y2="282.50" stroke="#333" stroke-width="0.8" />
<text x="433.60" y="286.00" font-size="9.8" text-anchor="end" fill="#222">0.5</text>
<line x1="437.40" y1="267.25" x2="439.20" y2="267.25" stroke="#333" stroke-width="0.8" />
<line x1="437.40" y1="252.00" x2="440.40" y2="252.00" stroke="#333" stroke-width="0.8" />
<text x="433.60" y="255.50" font-size="9.8" text-anchor="end" fill="#222">1.0</text>
<line x1="437.40" y1="236.75" x2="439.20" y2="236.75" stroke="#333" stroke-width="0.8" />
<line x1="437.40" y1="221.50" x2="440.40" y2="221.50" stroke="#333" stroke-width="0.8" />
<text x="433.60" y="225.00" font-size="9.8" text-anchor="end" fill="#222">1.5</text>
<line x1="437.40" y1="206.25" x2="439.20" y2="206.25" stroke="#333" stroke-width="0.8" />
<line x1="437.40" y1="191.00" x2="440.40" y2="191.00" stroke="#333" stroke-width="0.8" />
<text x="433.60" y="194.50" font-size="9.8" text-anchor="end" fill="#222">2.0</text>
<line x1="437.40" y1="313.00" x2="437.40" y2="310.00" stroke="#333" stroke-width="0.8" />
<line x1="437.40" y1="191.00" x2="437.40" y2="194.00" stroke="#333" stroke-width="0.8" />
<text x="437.40" y="325.70" font-size="9.8" text-anchor="middle" fill="#222">0.0</text>
<line x1="456.50" y1="313.00" x2="456.50" y2="311.20" stroke="#333" stroke-width="0.8" />
<line x1="456.50" y1="191.00" x2="456.50" y2="192.80" stroke="#333" stroke-width="0.8" />
<line x1="475.59" y1="313.00" x2="475.59" y2="310.00" stroke="#333" stroke-width="0.8" />
<line x1="475.59" y1="191.00" x2="475.59" y2="194.00" stroke="#333" stroke-width="0.8" />
<text x="475.59" y="325.70" font-size="9.8" text-anchor="middle" fill="#222">0.3</text>
<line x1="494.68" y1="313.00" x2="494.68" y2="311.20" stroke="#333" stroke-width="0.8" />
<line x1="494.68" y1="191.00" x2="494.68" y2="192.80" stroke="#333" stroke-width="0.8" />
<line x1="513.78" y1="313.00" x2="513.78" y2="310.00" stroke="#333" stroke-width="0.8" />
<line x1="513.78" y1="191.00" x2="513.78" y2="194.00" stroke="#333" stroke-width="0.8" />
<text x="513.78" y="325.70" font-size="9.8" text-anchor="middle" fill="#222">0.6</text>
<line x1="532.88" y1="313.00" x2="532.88" y2="311.20" stroke="#333" stroke-width="0.8" />
<line x1="532.88" y1="191.00" x2="532.88" y2="192.80" stroke="#333" stroke-width="0.8" />
<line x1="551.97" y1="313.00" x2="551.97" y2="310.00" stroke="#333" stroke-width="0.8" />
<line x1="551.97" y1="191.00" x2="551.97" y2="194.00" stroke="#333" stroke-width="0.8" />
<text x="551.97" y="325.70" font-size="9.8" text-anchor="middle" fill="#222">0.9</text>
<line x1="571.06" y1="313.00" x2="571.06" y2="311.20" stroke="#333" stroke-width="0.8" />
<line x1="571.06" y1="191.00" x2="571.06" y2="192.80" stroke="#333" stroke-width="0.8" />
<line x1="590.16" y1="313.00" x2="590.16" y2="310.00" stroke="#333" stroke-width="0.8" />
<line x1="590.16" y1="191.00" x2="590.16" y2="194.00" stroke="#333" stroke-width="0.8" />
<text x="590.16" y="325.70" font-size="9.8" text-anchor="middle" fill="#222">1.2</text>
<text x="503.6" y="340.4" font-size="11" font-weight="bold" fill="#111">V<tspan font-size="6.8" dy="4.5">D</tspan><tspan dy="-4.5" font-size="11"> (V)</tspan></text>
<text transform="translate(407.9,272.0) rotate(-90)" font-size="11" font-weight="bold" fill="#111">I<tspan font-size="6.8" dy="4.5">D</tspan><tspan dy="-4.5" font-size="11"> (nA)</tspan></text>
<text x="440.8" y="218.1" font-size="9.5" fill="#222">V<tspan font-size="5.4" dy="3.2">Gate-MoS</tspan><tspan font-size="3.4" dy="1.2">2</tspan></text>
<text x="478.20" y="218.10" font-size="9.5" fill="#222">= 3V</text>
<text x="440.8" y="232.7" font-size="9.5" fill="#222">V<tspan font-size="5.4" dy="3.2">Gate-WSe</tspan><tspan font-size="3.4" dy="1.2">2</tspan></text>
<text x="478.20" y="232.70" font-size="9.5" fill="#222">=</text>
<line x1="449.10" y1="243.70" x2="471.00" y2="243.70" stroke="#2ee62e" stroke-width="1.6" />
<text x="472.80" y="247.00" font-size="9.3" fill="#222">-3.5 V</text>
<line x1="449.10" y1="255.00" x2="471.00" y2="255.00" stroke="#1e78ee" stroke-width="1.6" />
<text x="472.80" y="258.30" font-size="9.3" fill="#222">-3.3 V</text>
<line x1="449.10" y1="266.20" x2="471.00" y2="266.20" stroke="#ee2222" stroke-width="1.6" />
<text x="472.80" y="269.50" font-size="9.3" fill="#222">-3.0 V</text>
<text x="5.80" y="377.80" font-size="10.8" font-weight="bold" fill="#111">(h)</text>
<polyline points="56.50,393.87 57.14,400.05 57.78,405.83 58.43,411.25 59.07,416.33 59.71,421.09 60.35,425.55 60.99,429.72 61.64,433.64 62.28,437.30 62.92,440.73 63.56,443.95 64.20,446.96 64.85,449.79 65.49,452.43 66.13,454.91 66.77,457.23 67.41,459.41 68.06,461.45 68.70,463.36 69.34,465.14 69.98,466.82 70.62,468.39 71.27,469.86 71.91,471.24 72.55,472.53 73.19,473.74 73.83,474.87 74.48,475.93 75.12,476.93 75.76,477.86 76.40,478.73 77.04,479.55 77.69,480.32 78.33,481.03 78.97,481.71 79.61,482.34 80.25,482.93 80.90,483.48 81.54,484.00 82.18,484.48 82.82,484.94 83.46,485.36 84.11,485.76 84.75,486.14 85.39,486.49 86.03,486.82 86.67,487.12 87.32,487.41 87.96,487.68 88.60,487.93 89.24,488.17 89.88,488.39 90.53,488.60 91.17,488.80 91.81,488.98 92.45,489.15 93.09,489.31 93.74,489.46 94.38,489.60 95.02,489.73 95.66,489.85 96.30,489.97 96.95,490.08 97.59,490.18 98.23,490.27 98.87,490.36 99.51,490.45 100.16,490.53 100.80,490.60 101.44,490.67 102.08,490.73 102.72,490.79 103.37,490.85 104.01,490.90 104.65,490.95 105.29,491.00 105.93,491.04 106.58,491.08 107.22,491.12 107.86,491.15 108.50,491.19 109.14,491.22 109.79,491.25 110.43,491.28 111.07,491.30 111.71,491.33 112.35,491.35 113.00,491.37 113.64,491.39 114.28,491.41 114.92,491.43 115.56,491.44 116.21,491.46 116.85,491.47 117.49,491.49 118.13,491.50 118.77,491.51 119.42,491.52 120.06,491.53 120.70,491.54 121.34,491.55 121.98,491.56 122.63,491.57 123.27,491.57 123.91,491.58 124.55,491.59 125.19,491.59 125.84,491.60 126.48,491.61 127.12,491.61 127.76,491.61 128.40,491.62 129.05,491.62 129.69,491.63 130.33,491.63 130.97,491.63 131.61,491.64 132.26,491.64 132.90,491.64 133.54,491.65 134.18,491.65 134.82,491.65 135.47,491.65 136.11,491.66 136.75,491.66 137.39,491.66 138.03,491.66 138.68,491.66 139.32,491.66 139.96,491.66 140.60,491.67 141.24,491.67 141.89,491.67 142.53,491.67 143.17,491.67 143.81,491.67 144.45,491.67 145.10,491.67 145.74,491.67 146.38,491.67 147.02,491.68 147.66,491.68 148.31,491.68 148.95,491.68 149.59,491.68 150.23,491.68 150.87,491.68 151.52,491.68 152.16,491.68 152.80,491.68 153.44,491.68 154.08,491.68 154.73,491.68 155.37,491.68 156.01,491.68 156.65,491.68 157.29,491.68 157.94,491.68 158.58,491.68 159.22,491.68 159.86,491.68 160.50,491.68 161.15,491.68 161.79,491.68 162.43,491.68 163.07,491.68" fill="none" stroke="#ee2020" stroke-width="1.3" stroke-linejoin="round" />
<polyline points="56.50,404.90 59.68,407.96 64.20,412.29 69.50,417.46 75.00,423.00 80.98,429.25 87.61,436.29 94.13,443.31 99.80,449.50 104.40,454.62 108.32,459.12 111.79,463.19 115.00,467.00 117.98,470.63 120.62,473.96 122.95,476.94 125.00,479.50 126.69,481.64 128.04,483.39 129.20,484.72 130.30,485.60 131.30,485.91 132.15,485.69 133.00,485.19 134.00,484.60 135.18,483.94 136.46,483.10 137.84,482.16 139.30,481.20 140.89,480.19 142.61,479.11 144.34,478.02 146.00,477.00 147.58,476.06 149.13,475.16 150.61,474.31 152.00,473.50 153.29,472.80 154.51,472.17 155.64,471.52 156.70,470.70 157.68,469.59 158.58,468.29 159.42,467.02 160.20,466.00 160.97,465.30 161.72,464.81 162.35,464.46 162.80,464.20" fill="none" stroke="#111" stroke-width="1.3" stroke-linejoin="round" />
<rect x="34.9" y="389.2" width="127.9" height="103.0" fill="none" stroke="#666" stroke-width="1.0"/>
<line x1="34.90" y1="492.20" x2="37.90" y2="492.20" stroke="#333" stroke-width="0.7" />
<text x="31.80" y="495.20" font-size="8.6" text-anchor="end" fill="#222">0.0</text>
<line x1="34.90" y1="483.62" x2="36.50" y2="483.62" stroke="#333" stroke-width="0.7" />
<line x1="34.90" y1="475.04" x2="37.90" y2="475.04" stroke="#333" stroke-width="0.7" />
<text x="31.80" y="478.04" font-size="8.6" text-anchor="end" fill="#222">0.2</text>
<line x1="34.90" y1="466.46" x2="36.50" y2="466.46" stroke="#333" stroke-width="0.7" />
<line x1="34.90" y1="457.88" x2="37.90" y2="457.88" stroke="#333" stroke-width="0.7" />
<text x="31.80" y="460.88" font-size="8.6" text-anchor="end" fill="#222">0.4</text>
<line x1="34.90" y1="449.30" x2="36.50" y2="449.30" stroke="#333" stroke-width="0.7" />
<line x1="34.90" y1="440.72" x2="37.90" y2="440.72" stroke="#333" stroke-width="0.7" />
<text x="31.80" y="443.72" font-size="8.6" text-anchor="end" fill="#222">0.6</text>
<line x1="34.90" y1="432.14" x2="36.50" y2="432.14" stroke="#333" stroke-width="0.7" />
<line x1="34.90" y1="423.56" x2="37.90" y2="423.56" stroke="#333" stroke-width="0.7" />
<text x="31.80" y="426.56" font-size="8.6" text-anchor="end" fill="#222">0.8</text>
<line x1="34.90" y1="414.98" x2="36.50" y2="414.98" stroke="#333" stroke-width="0.7" />
<line x1="34.90" y1="406.40" x2="37.90" y2="406.40" stroke="#333" stroke-width="0.7" />
<text x="31.80" y="409.40" font-size="8.6" text-anchor="end" fill="#222">1.0</text>
<line x1="34.90" y1="397.82" x2="36.50" y2="397.82" stroke="#333" stroke-width="0.7" />
<line x1="34.90" y1="389.24" x2="37.90" y2="389.24" stroke="#333" stroke-width="0.7" />
<text x="31.80" y="392.24" font-size="8.6" text-anchor="end" fill="#222">1.2</text>
<line x1="162.80" y1="492.20" x2="159.80" y2="492.20" stroke="#333" stroke-width="0.7" />
<text x="165.50" y="495.20" font-size="8.4" text-anchor="start" fill="#222">10<tspan font-size="5.2" dy="-3.5">-12</tspan></text>
<line x1="162.80" y1="483.44" x2="161.30" y2="483.44" stroke="#333" stroke-width="0.6" />
<line x1="162.80" y1="478.32" x2="161.30" y2="478.32" stroke="#333" stroke-width="0.6" />
<line x1="162.80" y1="474.68" x2="161.30" y2="474.68" stroke="#333" stroke-width="0.6" />
<line x1="162.80" y1="471.86" x2="161.30" y2="471.86" stroke="#333" stroke-width="0.6" />
<line x1="162.80" y1="469.56" x2="161.30" y2="469.56" stroke="#333" stroke-width="0.6" />
<line x1="162.80" y1="467.61" x2="161.30" y2="467.61" stroke="#333" stroke-width="0.6" />
<line x1="162.80" y1="465.92" x2="161.30" y2="465.92" stroke="#333" stroke-width="0.6" />
<line x1="162.80" y1="464.43" x2="161.30" y2="464.43" stroke="#333" stroke-width="0.6" />
<line x1="162.80" y1="463.10" x2="159.80" y2="463.10" stroke="#333" stroke-width="0.7" />
<text x="165.50" y="466.10" font-size="8.4" text-anchor="start" fill="#222">10<tspan font-size="5.2" dy="-3.5">-11</tspan></text>
<line x1="162.80" y1="454.34" x2="161.30" y2="454.34" stroke="#333" stroke-width="0.6" />
<line x1="162.80" y1="449.22" x2="161.30" y2="449.22" stroke="#333" stroke-width="0.6" />
<line x1="162.80" y1="445.58" x2="161.30" y2="445.58" stroke="#333" stroke-width="0.6" />
<line x1="162.80" y1="442.76" x2="161.30" y2="442.76" stroke="#333" stroke-width="0.6" />
<line x1="162.80" y1="440.46" x2="161.30" y2="440.46" stroke="#333" stroke-width="0.6" />
<line x1="162.80" y1="438.51" x2="161.30" y2="438.51" stroke="#333" stroke-width="0.6" />
<line x1="162.80" y1="436.82" x2="161.30" y2="436.82" stroke="#333" stroke-width="0.6" />
<line x1="162.80" y1="435.33" x2="161.30" y2="435.33" stroke="#333" stroke-width="0.6" />
<line x1="162.80" y1="434.00" x2="159.80" y2="434.00" stroke="#333" stroke-width="0.7" />
<text x="165.50" y="437.00" font-size="8.4" text-anchor="start" fill="#222">10<tspan font-size="5.2" dy="-3.5">-10</tspan></text>
<line x1="162.80" y1="425.24" x2="161.30" y2="425.24" stroke="#333" stroke-width="0.6" />
<line x1="162.80" y1="420.12" x2="161.30" y2="420.12" stroke="#333" stroke-width="0.6" />
<line x1="162.80" y1="416.48" x2="161.30" y2="416.48" stroke="#333" stroke-width="0.6" />
<line x1="162.80" y1="413.66" x2="161.30" y2="413.66" stroke="#333" stroke-width="0.6" />
<line x1="162.80" y1="411.36" x2="161.30" y2="411.36" stroke="#333" stroke-width="0.6" />
<line x1="162.80" y1="409.41" x2="161.30" y2="409.41" stroke="#333" stroke-width="0.6" />
<line x1="162.80" y1="407.72" x2="161.30" y2="407.72" stroke="#333" stroke-width="0.6" />
<line x1="162.80" y1="406.23" x2="161.30" y2="406.23" stroke="#333" stroke-width="0.6" />
<line x1="162.80" y1="404.90" x2="159.80" y2="404.90" stroke="#333" stroke-width="0.7" />
<text x="165.50" y="407.90" font-size="8.4" text-anchor="start" fill="#222">10<tspan font-size="5.2" dy="-3.5">-9</tspan></text>
<line x1="162.80" y1="396.14" x2="161.30" y2="396.14" stroke="#333" stroke-width="0.6" />
<line x1="162.80" y1="391.02" x2="161.30" y2="391.02" stroke="#333" stroke-width="0.6" />
<line x1="56.50" y1="492.20" x2="56.50" y2="489.20" stroke="#333" stroke-width="0.7" />
<line x1="56.50" y1="389.20" x2="56.50" y2="392.20" stroke="#333" stroke-width="0.7" />
<text x="56.50" y="502.80" font-size="8.6" text-anchor="middle" fill="#222">-1.8</text>
<line x1="99.30" y1="492.20" x2="99.30" y2="489.20" stroke="#333" stroke-width="0.7" />
<line x1="99.30" y1="389.20" x2="99.30" y2="392.20" stroke="#333" stroke-width="0.7" />
<text x="99.30" y="502.80" font-size="8.6" text-anchor="middle" fill="#222">-1.6</text>
<line x1="142.10" y1="492.20" x2="142.10" y2="489.20" stroke="#333" stroke-width="0.7" />
<line x1="142.10" y1="389.20" x2="142.10" y2="392.20" stroke="#333" stroke-width="0.7" />
<text x="142.10" y="502.80" font-size="8.6" text-anchor="middle" fill="#222">-1.4</text>
<line x1="35.10" y1="492.20" x2="35.10" y2="490.60" stroke="#333" stroke-width="0.7" />
<line x1="77.90" y1="492.20" x2="77.90" y2="490.60" stroke="#333" stroke-width="0.7" />
<line x1="120.70" y1="492.20" x2="120.70" y2="490.60" stroke="#333" stroke-width="0.7" />
<text x="86.8" y="511.3" font-size="8" font-weight="bold" fill="#111">V<tspan font-size="5.0" dy="3.0">G</tspan><tspan dy="-3.0" font-size="8"> (V)</tspan></text>
<text transform="translate(14.6,460.2) rotate(-90)" font-size="7.6" font-weight="bold" fill="#111">I<tspan font-size="4.7" dy="3.0">D</tspan><tspan dy="-3.0" font-size="7.6"> (nA)</tspan></text>
<text transform="translate(187.6,456.0) rotate(-90)" font-size="7.6" font-weight="bold" fill="#111">I<tspan font-size="4.7" dy="3.0">D</tspan><tspan dy="-3.0" font-size="7.6"> (A)</tspan></text>
<ellipse cx="68" cy="457.1" rx="6.2" ry="16.3" fill="none" stroke="#ee2020" stroke-width="1.3"/>
<line x1="61.80" y1="455.80" x2="45.00" y2="455.80" stroke="#ee2020" stroke-width="1.3" />
<polygon points="41.00,455.80 46.50,453.30 46.50,458.30" fill="#ee2020" />
<ellipse cx="99" cy="443.5" rx="6.6" ry="15.5" fill="none" stroke="#111" stroke-width="1.3"/>
<line x1="105.60" y1="433.10" x2="127.00" y2="433.10" stroke="#111" stroke-width="1.3" />
<polygon points="131.20,433.10 125.70,430.60 125.70,435.60" fill="#111" />
<line x1="102.60" y1="398.10" x2="119.30" y2="398.10" stroke="#ee2020" stroke-width="1.3" />
<text x="120.6" y="400.8" font-size="7.4" fill="#333">V<tspan font-size="4.6" dy="2.2">D</tspan><tspan dy="-2.2"> = -1 V</tspan></text>
<text x="188.80" y="379.80" font-size="10.6" font-weight="bold" fill="#111">(i)</text>
<polyline points="238.30,424.70 239.70,444.70 243.60,449.30 248.30,453.30 253.60,453.00 259.00,453.30 264.10,452.80 269.20,450.90 274.50,448.60 279.90,447.00 285.00,445.10 290.10,444.20 294.30,443.30 299.40,435.30 304.10,437.20 309.20,433.50 313.40,436.30 316.90,442.80 321.50,434.70 325.90,438.60 330.80,432.30 335.50,429.30 339.00,434.20 343.60,432.30" fill="none" stroke="#ee2020" stroke-width="1.2" stroke-linejoin="round" />
<rect x="236.90" y="423.30" width="2.80" height="2.80" fill="#ee2020" />
<rect x="238.30" y="443.30" width="2.80" height="2.80" fill="#ee2020" />
<rect x="242.20" y="447.90" width="2.80" height="2.80" fill="#ee2020" />
<rect x="246.90" y="451.90" width="2.80" height="2.80" fill="#ee2020" />
<rect x="252.20" y="451.60" width="2.80" height="2.80" fill="#ee2020" />
<rect x="257.60" y="451.90" width="2.80" height="2.80" fill="#ee2020" />
<rect x="262.70" y="451.40" width="2.80" height="2.80" fill="#ee2020" />
<rect x="267.80" y="449.50" width="2.80" height="2.80" fill="#ee2020" />
<rect x="273.10" y="447.20" width="2.80" height="2.80" fill="#ee2020" />
<rect x="278.50" y="445.60" width="2.80" height="2.80" fill="#ee2020" />
<rect x="283.60" y="443.70" width="2.80" height="2.80" fill="#ee2020" />
<rect x="288.70" y="442.80" width="2.80" height="2.80" fill="#ee2020" />
<rect x="292.90" y="441.90" width="2.80" height="2.80" fill="#ee2020" />
<rect x="298.00" y="433.90" width="2.80" height="2.80" fill="#ee2020" />
<rect x="302.70" y="435.80" width="2.80" height="2.80" fill="#ee2020" />
<rect x="307.80" y="432.10" width="2.80" height="2.80" fill="#ee2020" />
<rect x="312.00" y="434.90" width="2.80" height="2.80" fill="#ee2020" />
<rect x="315.50" y="441.40" width="2.80" height="2.80" fill="#ee2020" />
<rect x="320.10" y="433.30" width="2.80" height="2.80" fill="#ee2020" />
<rect x="324.50" y="437.20" width="2.80" height="2.80" fill="#ee2020" />
<rect x="329.40" y="430.90" width="2.80" height="2.80" fill="#ee2020" />
<rect x="334.10" y="427.90" width="2.80" height="2.80" fill="#ee2020" />
<rect x="337.60" y="432.80" width="2.80" height="2.80" fill="#ee2020" />
<rect x="342.20" y="430.90" width="2.80" height="2.80" fill="#ee2020" />
<rect x="229.2" y="387.0" width="128.60000000000002" height="103.69999999999999" fill="none" stroke="#666" stroke-width="1.0"/>
<line x1="229.20" y1="490.70" x2="232.20" y2="490.70" stroke="#333" stroke-width="0.7" />
<text x="226.30" y="493.80" font-size="9" text-anchor="end" fill="#222">50</text>
<line x1="229.20" y1="456.13" x2="232.20" y2="456.13" stroke="#333" stroke-width="0.7" />
<text x="226.30" y="459.23" font-size="9" text-anchor="end" fill="#222">100</text>
<line x1="229.20" y1="421.57" x2="232.20" y2="421.57" stroke="#333" stroke-width="0.7" />
<text x="226.30" y="424.67" font-size="9" text-anchor="end" fill="#222">150</text>
<line x1="229.20" y1="387.00" x2="232.20" y2="387.00" stroke="#333" stroke-width="0.7" />
<text x="226.30" y="390.10" font-size="9" text-anchor="end" fill="#222">200</text>
<line x1="229.20" y1="473.42" x2="230.80" y2="473.42" stroke="#333" stroke-width="0.7" />
<line x1="229.20" y1="438.85" x2="230.80" y2="438.85" stroke="#333" stroke-width="0.7" />
<line x1="229.20" y1="404.28" x2="230.80" y2="404.28" stroke="#333" stroke-width="0.7" />
<line x1="229.20" y1="490.70" x2="229.20" y2="487.70" stroke="#333" stroke-width="0.7" />
<line x1="229.20" y1="387.00" x2="229.20" y2="390.00" stroke="#333" stroke-width="0.7" />
<text x="232.70" y="502.40" font-size="8.4" text-anchor="middle" fill="#222">10<tspan font-size="5.2" dy="-3.5">-12</tspan></text>
<line x1="242.11" y1="490.70" x2="242.11" y2="489.20" stroke="#333" stroke-width="0.6" />
<line x1="242.11" y1="387.00" x2="242.11" y2="388.50" stroke="#333" stroke-width="0.6" />
<line x1="249.65" y1="490.70" x2="249.65" y2="489.20" stroke="#333" stroke-width="0.6" />
<line x1="249.65" y1="387.00" x2="249.65" y2="388.50" stroke="#333" stroke-width="0.6" />
<line x1="255.01" y1="490.70" x2="255.01" y2="489.20" stroke="#333" stroke-width="0.6" />
<line x1="255.01" y1="387.00" x2="255.01" y2="388.50" stroke="#333" stroke-width="0.6" />
<line x1="259.16" y1="490.70" x2="259.16" y2="489.20" stroke="#333" stroke-width="0.6" />
<line x1="259.16" y1="387.00" x2="259.16" y2="388.50" stroke="#333" stroke-width="0.6" />
<line x1="262.56" y1="490.70" x2="262.56" y2="489.20" stroke="#333" stroke-width="0.6" />
<line x1="262.56" y1="387.00" x2="262.56" y2="388.50" stroke="#333" stroke-width="0.6" />
<line x1="265.43" y1="490.70" x2="265.43" y2="489.20" stroke="#333" stroke-width="0.6" />
<line x1="265.43" y1="387.00" x2="265.43" y2="388.50" stroke="#333" stroke-width="0.6" />
<line x1="267.92" y1="490.70" x2="267.92" y2="489.20" stroke="#333" stroke-width="0.6" />
<line x1="267.92" y1="387.00" x2="267.92" y2="388.50" stroke="#333" stroke-width="0.6" />
<line x1="270.11" y1="490.70" x2="270.11" y2="489.20" stroke="#333" stroke-width="0.6" />
<line x1="270.11" y1="387.00" x2="270.11" y2="388.50" stroke="#333" stroke-width="0.6" />
<line x1="272.07" y1="490.70" x2="272.07" y2="487.70" stroke="#333" stroke-width="0.7" />
<line x1="272.07" y1="387.00" x2="272.07" y2="390.00" stroke="#333" stroke-width="0.7" />
<text x="275.57" y="502.40" font-size="8.4" text-anchor="middle" fill="#222">10<tspan font-size="5.2" dy="-3.5">-11</tspan></text>
<line x1="284.98" y1="490.70" x2="284.98" y2="489.20" stroke="#333" stroke-width="0.6" />
<line x1="284.98" y1="387.00" x2="284.98" y2="388.50" stroke="#333" stroke-width="0.6" />
<line x1="292.52" y1="490.70" x2="292.52" y2="489.20" stroke="#333" stroke-width="0.6" />
<line x1="292.52" y1="387.00" x2="292.52" y2="388.50" stroke="#333" stroke-width="0.6" />
<line x1="297.88" y1="490.70" x2="297.88" y2="489.20" stroke="#333" stroke-width="0.6" />
<line x1="297.88" y1="387.00" x2="297.88" y2="388.50" stroke="#333" stroke-width="0.6" />
<line x1="302.03" y1="490.70" x2="302.03" y2="489.20" stroke="#333" stroke-width="0.6" />
<line x1="302.03" y1="387.00" x2="302.03" y2="388.50" stroke="#333" stroke-width="0.6" />
<line x1="305.43" y1="490.70" x2="305.43" y2="489.20" stroke="#333" stroke-width="0.6" />
<line x1="305.43" y1="387.00" x2="305.43" y2="388.50" stroke="#333" stroke-width="0.6" />
<line x1="308.30" y1="490.70" x2="308.30" y2="489.20" stroke="#333" stroke-width="0.6" />
<line x1="308.30" y1="387.00" x2="308.30" y2="388.50" stroke="#333" stroke-width="0.6" />
<line x1="310.79" y1="490.70" x2="310.79" y2="489.20" stroke="#333" stroke-width="0.6" />
<line x1="310.79" y1="387.00" x2="310.79" y2="388.50" stroke="#333" stroke-width="0.6" />
<line x1="312.98" y1="490.70" x2="312.98" y2="489.20" stroke="#333" stroke-width="0.6" />
<line x1="312.98" y1="387.00" x2="312.98" y2="388.50" stroke="#333" stroke-width="0.6" />
<line x1="314.94" y1="490.70" x2="314.94" y2="487.70" stroke="#333" stroke-width="0.7" />
<line x1="314.94" y1="387.00" x2="314.94" y2="390.00" stroke="#333" stroke-width="0.7" />
<text x="318.44" y="502.40" font-size="8.4" text-anchor="middle" fill="#222">10<tspan font-size="5.2" dy="-3.5">-10</tspan></text>
<line x1="327.85" y1="490.70" x2="327.85" y2="489.20" stroke="#333" stroke-width="0.6" />
<line x1="327.85" y1="387.00" x2="327.85" y2="388.50" stroke="#333" stroke-width="0.6" />
<line x1="335.39" y1="490.70" x2="335.39" y2="489.20" stroke="#333" stroke-width="0.6" />
<line x1="335.39" y1="387.00" x2="335.39" y2="388.50" stroke="#333" stroke-width="0.6" />
<line x1="340.75" y1="490.70" x2="340.75" y2="489.20" stroke="#333" stroke-width="0.6" />
<line x1="340.75" y1="387.00" x2="340.75" y2="388.50" stroke="#333" stroke-width="0.6" />
<line x1="344.90" y1="490.70" x2="344.90" y2="489.20" stroke="#333" stroke-width="0.6" />
<line x1="344.90" y1="387.00" x2="344.90" y2="388.50" stroke="#333" stroke-width="0.6" />
<line x1="348.30" y1="490.70" x2="348.30" y2="489.20" stroke="#333" stroke-width="0.6" />
<line x1="348.30" y1="387.00" x2="348.30" y2="388.50" stroke="#333" stroke-width="0.6" />
<line x1="351.17" y1="490.70" x2="351.17" y2="489.20" stroke="#333" stroke-width="0.6" />
<line x1="351.17" y1="387.00" x2="351.17" y2="388.50" stroke="#333" stroke-width="0.6" />
<line x1="353.66" y1="490.70" x2="353.66" y2="489.20" stroke="#333" stroke-width="0.6" />
<line x1="353.66" y1="387.00" x2="353.66" y2="388.50" stroke="#333" stroke-width="0.6" />
<line x1="355.85" y1="490.70" x2="355.85" y2="489.20" stroke="#333" stroke-width="0.6" />
<line x1="355.85" y1="387.00" x2="355.85" y2="388.50" stroke="#333" stroke-width="0.6" />
<line x1="357.81" y1="490.70" x2="357.81" y2="487.70" stroke="#333" stroke-width="0.7" />
<line x1="357.81" y1="387.00" x2="357.81" y2="390.00" stroke="#333" stroke-width="0.7" />
<text x="361.31" y="502.40" font-size="8.4" text-anchor="middle" fill="#222">10<tspan font-size="5.2" dy="-3.5">-9</tspan></text>
<text x="283.2" y="508.2" font-size="8.4" font-weight="bold" fill="#111">I<tspan font-size="5.2" dy="3.0">D</tspan><tspan dy="-3.0" font-size="8.4"> (A)</tspan></text>
<text transform="translate(208.4,469.8) rotate(-90)" font-size="9" font-weight="bold" fill="#111" textLength="50.2" lengthAdjust="spacingAndGlyphs">SS (mV/dec)</text>
<line x1="302.60" y1="397.80" x2="319.40" y2="397.80" stroke="#ee2020" stroke-width="1.5" />
<rect x="308.90" y="396.00" width="3.60" height="3.60" fill="#ee2020" />
<text x="321.4" y="400.6" font-size="7.6" fill="#333">V<tspan font-size="4.6" dy="2.4">D</tspan><tspan dy="-2.4"> =-1 V</tspan></text>
<text x="398.40" y="379.80" font-size="10.6" font-weight="bold" fill="#111">(j)</text>
<polyline points="458.80,427.00 460.60,429.05 463.21,432.01 465.96,435.26 468.20,438.20 469.77,440.50 471.02,442.54 472.03,444.76 472.90,447.60 473.62,451.69 474.14,456.64 474.52,461.29 474.80,464.50 476.08,468.12 477.37,471.31 478.65,469.32 479.94,472.74 481.22,472.29 482.50,480.78 483.79,466.88 485.07,470.55 486.36,466.36 487.64,476.45 488.92,475.68 490.21,472.51 491.49,476.94 492.78,467.69 494.06,474.44 495.34,471.41 496.63,470.01 497.91,470.17 499.20,480.56 500.48,469.43 501.76,475.08 503.05,473.40 504.33,473.81 505.62,480.59 506.90,470.24 508.18,466.72 509.47,466.11 510.75,466.83 512.04,471.10 513.32,472.29 514.60,469.51 515.89,477.28 516.70,465.56 517.21,464.55 517.85,463.30 518.64,461.75 519.61,459.82 520.77,457.43 522.15,454.52 523.83,450.79 525.79,446.24 527.95,441.24 530.21,436.14 532.49,431.33 534.67,427.16 536.79,423.64 538.93,420.48 541.07,417.60 543.22,414.91 545.37,412.33 547.51,409.78 549.66,407.27 551.82,404.86 553.97,402.57 556.12,400.39 558.25,398.35 560.35,396.44 562.56,394.63 564.92,392.89 567.25,391.29 569.41,389.87 571.23,388.69 572.55,387.80" fill="none" stroke="#9b30ff" stroke-width="1.4" stroke-linejoin="round" />
<polyline points="458.80,418.50 460.60,420.44 463.20,423.19 465.95,426.47 468.20,430.00 469.77,433.89 471.02,438.24 472.06,442.71 473.00,447.00 473.89,451.38 474.65,455.91 475.26,459.91 475.70,462.70 476.98,468.93 478.27,461.63 479.55,462.22 480.84,464.11 482.12,463.06 483.40,464.97 484.69,461.86 485.97,461.70 487.26,463.44 488.54,461.82 489.82,463.03 491.11,468.30 492.39,467.15 493.68,462.61 494.96,462.84 496.24,463.52 497.53,461.60 498.81,467.72 500.10,463.36 501.38,461.75 502.66,464.59 503.95,463.83 505.23,464.24 506.52,464.37 507.80,462.35 508.35,462.20 509.15,460.76 510.16,458.86 511.40,456.56 512.89,453.92 514.65,450.98 516.70,447.80 519.19,444.14 522.16,439.91 525.40,435.38 528.70,430.84 531.86,426.57 534.67,422.84 537.11,419.69 539.33,416.90 541.41,414.38 543.42,412.03 545.43,409.76 547.51,407.48 549.66,405.18 551.82,402.93 553.97,400.76 556.12,398.70 558.25,396.77 560.35,395.00 562.56,393.35 564.92,391.80 567.25,390.38 569.41,389.13 571.23,388.10 572.55,387.32" fill="none" stroke="#1c1c8c" stroke-width="1.4" stroke-linejoin="round" />
<polyline points="458.80,414.70 460.57,416.60 463.14,419.29 465.88,422.51 468.20,426.00 469.95,429.81 471.46,434.04 472.79,438.50 474.00,443.00 475.14,447.99 476.16,453.41 477.00,458.30 477.60,461.70 478.88,463.46 480.17,460.28 481.45,465.71 482.74,463.40 484.02,462.97 485.30,462.67 486.59,467.18 487.87,462.45 489.16,462.51 490.44,461.53 491.72,463.26 493.01,461.69 494.29,459.93 495.58,460.95 496.86,468.28 498.14,459.89 499.43,462.42 500.71,466.46 502.00,460.51 503.28,461.92 504.56,463.56 505.46,461.24 506.61,459.56 508.12,457.33 509.96,454.64 512.04,451.60 514.30,448.33 516.70,444.92 519.36,441.14 522.38,436.85 525.58,432.32 528.81,427.82 531.90,423.61 534.67,419.96 537.11,416.91 539.33,414.26 541.41,411.90 543.42,409.73 545.43,407.65 547.51,405.56 549.66,403.46 551.82,401.44 553.97,399.50 556.12,397.66 558.25,395.94 560.35,394.33 562.56,392.80 564.92,391.33 567.25,389.98 569.41,388.78 571.23,387.78 572.55,387.03" fill="none" stroke="#2424f0" stroke-width="1.4" stroke-linejoin="round" />
<polyline points="458.80,411.90 460.49,413.80 462.91,416.49 465.63,419.72 468.20,423.20 470.70,427.03 473.31,431.30 475.71,435.74 477.60,440.10 478.83,444.72 479.59,449.61 480.05,453.96 480.40,457.00 481.68,458.58 482.97,458.78 484.25,464.38 485.54,459.33 486.82,457.14 488.10,458.53 489.39,458.80 490.67,457.85 491.96,459.95 493.24,458.39 494.52,456.86 495.81,457.87 497.09,457.71 498.38,457.60 499.66,459.34 500.94,458.80 501.93,458.36 503.50,456.30 505.64,453.49 508.19,450.14 510.99,446.48 513.88,442.75 516.70,439.16 519.57,435.55 522.64,431.69 525.80,427.76 528.94,423.91 531.94,420.29 534.67,417.08 537.11,414.31 539.33,411.85 541.41,409.64 543.42,407.59 545.43,405.61 547.51,403.64 549.66,401.67 551.82,399.76 553.97,397.93 556.12,396.19 558.25,394.57 560.35,393.08 562.56,391.68 564.92,390.36 567.25,389.16 569.41,388.10 571.23,387.22 572.55,386.55" fill="none" stroke="#22dd22" stroke-width="1.4" stroke-linejoin="round" />
<polyline points="458.80,409.50 460.49,411.44 462.91,414.19 465.63,417.47 468.20,421.00 470.68,424.79 473.24,428.97 475.64,433.41 477.60,438.00 479.05,443.26 480.14,449.06 480.93,454.34 481.50,458.00 482.78,457.11 484.07,460.86 485.35,459.08 486.64,459.72 487.92,459.97 489.20,456.66 490.49,458.50 491.77,456.61 493.06,459.49 494.34,457.82 495.62,459.28 496.91,459.04 498.19,457.03 498.40,456.44 500.39,454.04 503.15,450.72 506.42,446.78 509.94,442.54 513.45,438.30 516.70,434.36 519.77,430.56 522.90,426.61 526.03,422.66 529.07,418.86 531.98,415.35 534.67,412.28 537.11,409.73 539.33,407.59 541.41,405.74 543.42,404.07 545.43,402.45 547.51,400.76 549.66,399.00 551.82,397.25 553.97,395.55 556.12,393.95 558.25,392.47 560.35,391.16 562.56,390.00 564.92,388.97 567.25,388.06 569.41,387.29 571.23,386.66 572.55,386.17" fill="none" stroke="#f5f500" stroke-width="1.4" stroke-linejoin="round" />
<polyline points="458.80,405.50 460.49,407.44 462.91,410.19 465.63,413.47 468.20,417.00 470.66,420.72 473.18,424.78 475.57,429.20 477.60,434.00 479.26,439.87 480.64,446.56 481.73,452.73 482.50,457.00 483.78,457.18 485.07,457.50 486.35,458.34 487.64,458.01 488.92,457.43 490.20,459.13 491.49,458.75 492.77,462.88 493.58,450.68 496.16,448.32 499.77,445.06 504.02,441.20 508.52,437.04 512.87,432.90 516.70,429.08 520.05,425.42 523.26,421.63 526.33,417.86 529.25,414.24 532.03,410.89 534.67,407.96 537.11,405.49 539.33,403.39 541.41,401.57 543.42,399.94 545.43,398.42 547.51,396.92 549.66,395.46 551.82,394.11 553.97,392.88 556.12,391.74 558.25,390.69 560.35,389.72 562.56,388.83 564.92,388.02 567.25,387.30 569.41,386.68 571.23,386.17 572.55,385.78" fill="none" stroke="#ff9a1a" stroke-width="1.4" stroke-linejoin="round" />
<polyline points="458.80,404.40 460.49,406.30 462.91,408.99 465.63,412.22 468.20,415.70 470.62,419.53 473.07,423.80 475.45,428.24 477.60,432.60 479.56,437.11 481.38,441.81 482.95,446.13 484.20,449.50 485.03,451.64 485.51,452.91 485.79,453.64 486.00,454.20 485.88,454.52 487.18,453.26 488.91,451.60 491.00,449.60 493.33,447.30 495.83,444.76 498.40,442.04 501.12,439.00 504.08,435.57 507.21,431.90 510.41,428.14 513.60,424.43 516.70,420.92 519.77,417.49 522.90,414.01 526.03,410.58 529.07,407.31 531.98,404.32 534.67,401.72 537.11,399.56 539.33,397.76 541.41,396.24 543.42,394.91 545.43,393.69 547.51,392.50 549.66,391.37 551.82,390.36 553.97,389.46 556.12,388.66 558.25,387.95 560.35,387.32 562.56,386.79 564.92,386.37 567.25,386.04 569.41,385.78 571.23,385.57 572.55,385.40" fill="none" stroke="#ee1c1c" stroke-width="1.4" stroke-linejoin="round" />
<rect x="442.9" y="377.0" width="144.39999999999998" height="114.39999999999998" fill="none" stroke="#666" stroke-width="1.0"/>
<line x1="442.90" y1="377.00" x2="445.90" y2="377.00" stroke="#333" stroke-width="0.7" />
<text x="440.20" y="380.20" font-size="8.7" text-anchor="end" fill="#222">10<tspan font-size="5.4" dy="-3.6">-4</tspan></text>
<line x1="442.90" y1="386.55" x2="444.50" y2="386.55" stroke="#333" stroke-width="0.7" />
<line x1="442.90" y1="396.10" x2="445.90" y2="396.10" stroke="#333" stroke-width="0.7" />
<text x="440.20" y="399.30" font-size="8.7" text-anchor="end" fill="#222">10<tspan font-size="5.4" dy="-3.6">-6</tspan></text>
<line x1="442.90" y1="405.65" x2="444.50" y2="405.65" stroke="#333" stroke-width="0.7" />
<line x1="442.90" y1="415.20" x2="445.90" y2="415.20" stroke="#333" stroke-width="0.7" />
<text x="440.20" y="418.40" font-size="8.7" text-anchor="end" fill="#222">10<tspan font-size="5.4" dy="-3.6">-8</tspan></text>
<line x1="442.90" y1="424.75" x2="444.50" y2="424.75" stroke="#333" stroke-width="0.7" />
<line x1="442.90" y1="434.30" x2="445.90" y2="434.30" stroke="#333" stroke-width="0.7" />
<text x="440.20" y="437.50" font-size="8.7" text-anchor="end" fill="#222">10<tspan font-size="5.4" dy="-3.6">-10</tspan></text>
<line x1="442.90" y1="443.85" x2="444.50" y2="443.85" stroke="#333" stroke-width="0.7" />
<line x1="442.90" y1="453.40" x2="445.90" y2="453.40" stroke="#333" stroke-width="0.7" />
<text x="440.20" y="456.60" font-size="8.7" text-anchor="end" fill="#222">10<tspan font-size="5.4" dy="-3.6">-12</tspan></text>
<line x1="442.90" y1="462.95" x2="444.50" y2="462.95" stroke="#333" stroke-width="0.7" />
<line x1="442.90" y1="472.50" x2="445.90" y2="472.50" stroke="#333" stroke-width="0.7" />
<text x="440.20" y="475.70" font-size="8.7" text-anchor="end" fill="#222">10<tspan font-size="5.4" dy="-3.6">-14</tspan></text>
<line x1="442.90" y1="482.05" x2="444.50" y2="482.05" stroke="#333" stroke-width="0.7" />
<line x1="442.90" y1="491.60" x2="445.90" y2="491.60" stroke="#333" stroke-width="0.7" />
<text x="440.20" y="494.80" font-size="8.7" text-anchor="end" fill="#222">10<tspan font-size="5.4" dy="-3.6">-16</tspan></text>
<line x1="459.50" y1="491.40" x2="459.50" y2="488.40" stroke="#333" stroke-width="0.7" />
<line x1="459.50" y1="377.00" x2="459.50" y2="380.00" stroke="#333" stroke-width="0.7" />
<text x="459.50" y="503.20" font-size="8.7" text-anchor="middle" fill="#222">-3</text>
<line x1="443.50" y1="491.40" x2="443.50" y2="489.80" stroke="#333" stroke-width="0.7" />
<line x1="443.50" y1="377.00" x2="443.50" y2="378.60" stroke="#333" stroke-width="0.7" />
<line x1="491.50" y1="491.40" x2="491.50" y2="488.40" stroke="#333" stroke-width="0.7" />
<line x1="491.50" y1="377.00" x2="491.50" y2="380.00" stroke="#333" stroke-width="0.7" />
<text x="491.50" y="503.20" font-size="8.7" text-anchor="middle" fill="#222">-2</text>
<line x1="475.50" y1="491.40" x2="475.50" y2="489.80" stroke="#333" stroke-width="0.7" />
<line x1="475.50" y1="377.00" x2="475.50" y2="378.60" stroke="#333" stroke-width="0.7" />
<line x1="523.50" y1="491.40" x2="523.50" y2="488.40" stroke="#333" stroke-width="0.7" />
<line x1="523.50" y1="377.00" x2="523.50" y2="380.00" stroke="#333" stroke-width="0.7" />
<text x="523.50" y="503.20" font-size="8.7" text-anchor="middle" fill="#222">-1</text>
<line x1="507.50" y1="491.40" x2="507.50" y2="489.80" stroke="#333" stroke-width="0.7" />
<line x1="507.50" y1="377.00" x2="507.50" y2="378.60" stroke="#333" stroke-width="0.7" />
<line x1="555.50" y1="491.40" x2="555.50" y2="488.40" stroke="#333" stroke-width="0.7" />
<line x1="555.50" y1="377.00" x2="555.50" y2="380.00" stroke="#333" stroke-width="0.7" />
<text x="555.50" y="503.20" font-size="8.7" text-anchor="middle" fill="#222">0</text>
<line x1="539.50" y1="491.40" x2="539.50" y2="489.80" stroke="#333" stroke-width="0.7" />
<line x1="539.50" y1="377.00" x2="539.50" y2="378.60" stroke="#333" stroke-width="0.7" />
<line x1="587.50" y1="491.40" x2="587.50" y2="488.40" stroke="#333" stroke-width="0.7" />
<line x1="587.50" y1="377.00" x2="587.50" y2="380.00" stroke="#333" stroke-width="0.7" />
<text x="587.50" y="503.20" font-size="8.7" text-anchor="middle" fill="#222">1</text>
<line x1="571.50" y1="491.40" x2="571.50" y2="489.80" stroke="#333" stroke-width="0.7" />
<line x1="571.50" y1="377.00" x2="571.50" y2="378.60" stroke="#333" stroke-width="0.7" />
<text x="501.6" y="511.3" font-size="9" font-weight="bold" fill="#111">V<tspan font-size="5.6" dy="3.4">G</tspan><tspan dy="-3.4" font-size="9"> (V)</tspan></text>
<text transform="translate(413.6,441.0) rotate(-90)" font-size="8.8" font-weight="bold" fill="#111">I<tspan font-size="5.5" dy="3.2">D</tspan><tspan dy="-3.2" font-size="8.8"> (A)</tspan></text>
<line x1="486.10" y1="402.50" x2="486.10" y2="491.00" stroke="#111" stroke-width="1.6" stroke-dasharray="3.2 2.2"/>
<text x="472.7" y="390.7" font-size="10.5" fill="#222">V<tspan font-size="7" dy="2">D</tspan><tspan dy="-2"> = -1 V</tspan></text>
<text x="446.3" y="489.3" font-size="10" fill="#222"><tspan font-style="italic">p</tspan>-TFET</text>
<text x="490.8" y="489.3" font-size="10" fill="#222"><tspan font-style="italic">n</tspan>-MOSFET</text>
<ellipse cx="471" cy="440.1" rx="7.0" ry="21.5" fill="none" stroke="#111" stroke-width="1.2"/>
<ellipse cx="526.9" cy="424.9" rx="7.6" ry="31.5" fill="none" stroke="#111" stroke-width="1.2"/>
<line x1="469.10" y1="461.70" x2="469.10" y2="473.00" stroke="#111" stroke-width="1.1" />
<polygon points="469.10,477.00 467.00,472.20 471.20,472.20" fill="#111" />
<line x1="527.90" y1="460.50" x2="527.90" y2="471.50" stroke="#111" stroke-width="1.1" />
<polygon points="527.90,475.50 525.80,470.70 530.00,470.70" fill="#111" />
<line x1="540.20" y1="421.90" x2="559.30" y2="421.90" stroke="#9b30ff" stroke-width="1.4" />
<text x="561.30" y="424.90" font-size="8.2" fill="#222">77 K</text>
<line x1="540.20" y1="431.90" x2="559.30" y2="431.90" stroke="#1c1c8c" stroke-width="1.4" />
<text x="561.30" y="434.90" font-size="8.2" fill="#222">125 K</text>
<line x1="540.20" y1="442.10" x2="559.30" y2="442.10" stroke="#2424f0" stroke-width="1.4" />
<text x="561.30" y="445.10" font-size="8.2" fill="#222">175 K</text>
<line x1="540.20" y1="452.30" x2="559.30" y2="452.30" stroke="#22dd22" stroke-width="1.4" />
<text x="561.30" y="455.30" font-size="8.2" fill="#222">200 K</text>
<line x1="540.20" y1="462.40" x2="559.30" y2="462.40" stroke="#f5f500" stroke-width="1.4" />
<text x="561.30" y="465.40" font-size="8.2" fill="#222">250 K</text>
<line x1="540.20" y1="472.30" x2="559.30" y2="472.30" stroke="#ff9a1a" stroke-width="1.4" />
<text x="561.30" y="475.30" font-size="8.2" fill="#222">275 K</text>
<line x1="540.20" y1="482.00" x2="559.30" y2="482.00" stroke="#ee1c1c" stroke-width="1.4" />
<text x="561.30" y="485.00" font-size="8.2" fill="#222">295 K</text></svg></body></html>
